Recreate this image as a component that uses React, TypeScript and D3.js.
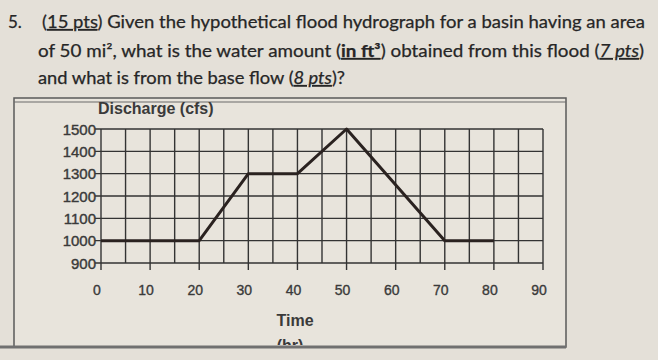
import React from 'react';
import * as d3 from 'd3';

const hours = [0, 20, 30, 40, 50, 70, 80];
const discharge = [1000, 1000, 1300, 1300, 1500, 1000, 1000];
const xTickLabels = [0, 10, 20, 30, 40, 50, 60, 70, 80, 90];
const yTickLabels = [900, 1000, 1100, 1200, 1300, 1400, 1500];
const xGrid = d3.range(0, 91, 5);
const yTitle = 'Discharge (cfs)';
const xTitle = 'Time';
const xUnit = '(hr)';

export default function App() {
  const W = 658;
  const H = 360;
  const x = d3.scaleLinear().domain([0, 90]).range([101, 543]);
  const y = d3.scaleLinear().domain([900, 1500]).range([263, 129]);
  const line = d3
    .line<number>()
    .x((_, i) => x(hours[i]))
    .y((d) => y(d));
  const qFont = { fontFamily: 'Lato, "Open Sans", sans-serif', fontSize: 17, fill: '#262626' };
  const cFont = { fontFamily: '"Liberation Sans", Arial, sans-serif', fill: '#3a3a3a' };
  const u = { textDecoration: 'underline' } as React.CSSProperties;

  return (
    <svg width={W} height={H} style={{ position: 'absolute', left: 0, top: 0 }}>
      <defs>
        <clipPath id="boxclip">
          <rect x={14} y={100} width={552} height={245} />
        </clipPath>
      </defs>
      <rect x={0} y={0} width={W} height={H} fill="#e4e0d8" />
      {/* question text */}
      <text x={8} y={28} {...qFont} stroke="#262626" strokeWidth={0.25}>5.</text>
      <text x={42} y={28} {...qFont} stroke="#262626" strokeWidth={0.25} textLength={603} lengthAdjust="spacingAndGlyphs">
        (<tspan style={u}>15 pts</tspan>) Given the hypothetical flood hydrograph for a basin having an area
      </text>
      <text x={38} y={57} {...qFont} stroke="#262626" strokeWidth={0.25} textLength={606} lengthAdjust="spacingAndGlyphs">
        of 50 mi², what is the water amount (<tspan style={u} fontWeight="bold">in ft³</tspan>) obtained from this flood (<tspan style={u} fontStyle="italic">7 pts</tspan>)
      </text>
      <text x={38} y={84} {...qFont} stroke="#262626" strokeWidth={0.25} textLength={307} lengthAdjust="spacingAndGlyphs">
        and what is from the base flow (<tspan style={u} fontStyle="italic">8 pts</tspan>)?
      </text>

      {/* chart box */}
      <rect x={14} y={98} width={552} height={249} fill="#e8e4dc" stroke="#5a5a5a" strokeWidth={1.5} />
      <line x1={14} x2={566} y1={102} y2={102} stroke="#6a6a6a" strokeWidth={1} />
      <line x1={0} x2={566} y1={347} y2={347} stroke="#707070" strokeWidth={3} />

      {/* grid */}
      {xGrid.map((v) => (
        <line key={'gx' + v} x1={x(v)} x2={x(v)} y1={y(1500)} y2={v % 10 === 0 ? y(900) + 7 : y(900)} stroke="#333" strokeWidth={1.4} />
      ))}
      {yTickLabels.map((v) => (
        <line key={'gy' + v} x1={x(0) - 6} x2={x(90)} y1={y(v)} y2={y(v)} stroke="#333" strokeWidth={1.4} />
      ))}

      {/* data line */}
      <path d={line(discharge) || ''} fill="none" stroke="#2a2220" strokeWidth={3} strokeLinejoin="round" />

      {/* y labels */}
      {yTickLabels.map((v) => (
        <text key={'yl' + v} x={x(0) - 5} y={y(v) + 5.5} textAnchor="end" fontSize={15} {...cFont} stroke="#3a3a3a" strokeWidth={0.4}>
          {v}
        </text>
      ))}
      {/* x labels */}
      {xTickLabels.map((v) => (
        <text key={'xl' + v} x={x(v) - 4} y={295} textAnchor="middle" fontSize={14} {...cFont} stroke="#3a3a3a" strokeWidth={0.35}>
          {v}
        </text>
      ))}
      <text x={98} y={114} fontSize={16} fontWeight="bold" {...cFont}>{yTitle}</text>
      <text x={295} y={326} fontSize={16} fontWeight="bold" textAnchor="middle" {...cFont}>{xTitle}</text>
      <g clipPath="url(#boxclip)">
        <text x={290} y={351} fontSize={16} fontWeight="bold" textAnchor="middle" {...cFont}>{xUnit}</text>
      </g>
    </svg>
  );
}
